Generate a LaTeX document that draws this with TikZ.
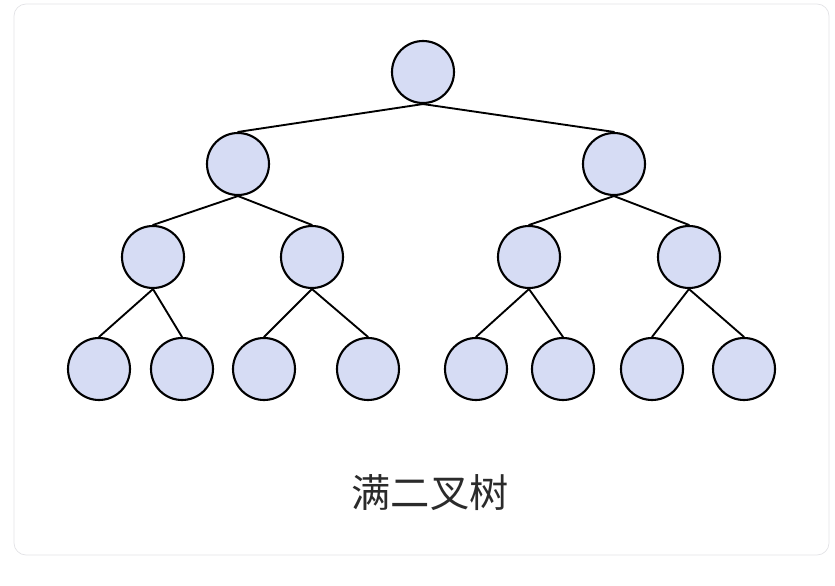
\documentclass[tikz,border=0pt]{standalone}
\usepackage{fontspec}
\newfontfamily\cjk{Noto Sans CJK SC}
\usetikzlibrary{arrows.meta}
\definecolor{nodefill}{HTML}{D6DCF4}
\definecolor{framegray}{HTML}{E3E3E6}
\definecolor{textgray}{HTML}{2B2B2B}
\tikzset{
  every picture/.style={line join=round, line cap=round, >=Stealth},
  treenode/.style={circle, draw=black, fill=nodefill, line width=1.8pt, minimum size=1.86cm, inner sep=0pt},
  link/.style={line width=1.6pt},
}

\begin{document}
\begin{tikzpicture}[x=0.03cm,y=-0.03cm]
\useasboundingbox (0,0) rectangle (835,586);
\draw[framegray, line width=0.6pt, rounded corners=0.36cm] (14,4) rectangle (829,555);
% levels of the tree
\node[treenode] (r) at (423,72) {};
\node[treenode] (a) at (238,164) {};
\node[treenode] (b) at (614,164) {};
\node[treenode] (aa) at (153,257) {};
\node[treenode] (ab) at (312,257) {};
\node[treenode] (ba) at (529,257) {};
\node[treenode] (bb) at (689,257) {};
\node[treenode] (aaa) at (99,369) {};
\node[treenode] (aab) at (182,369) {};
\node[treenode] (aba) at (264,369) {};
\node[treenode] (abb) at (368,369) {};
\node[treenode] (baa) at (476,369) {};
\node[treenode] (bab) at (563,369) {};
\node[treenode] (bba) at (652,369) {};
\node[treenode] (bbb) at (744,369) {};
% connectors
\foreach \p/\c in {r/a,r/b,a/aa,a/ab,b/ba,b/bb,aa/aaa,aa/aab,ab/aba,ab/abb,ba/baa,ba/bab,bb/bba,bb/bbb}
  \draw[link] (\p.south) -- (\c.north);
\node[font=\cjk\fontsize{33.5}{36}\selectfont, textgray] (title) at (430,493) {满二叉树};
\end{tikzpicture}
\end{document}
